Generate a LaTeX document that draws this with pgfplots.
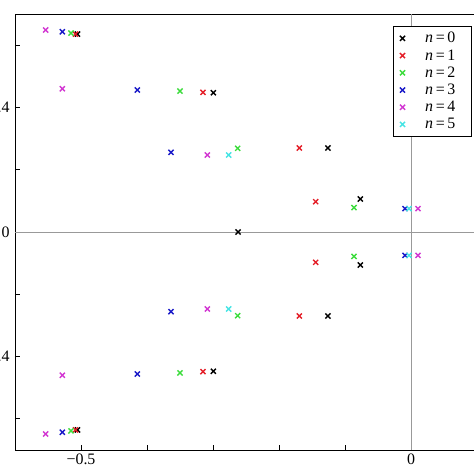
\documentclass[border=0pt]{standalone}
\usepackage{fontspec}
\setmainfont{Liberation Serif}
\usepackage{pgfplots}
\pgfplotsset{compat=1.18}

\definecolor{cred}{RGB}{228,30,40}
\definecolor{cgreen}{RGB}{60,220,60}
\definecolor{cblue}{RGB}{25,25,200}
\definecolor{cmag}{RGB}{210,55,210}
\definecolor{ccyan}{RGB}{70,228,228}

\pgfplotsset{
  pole/.style={only marks, mark=x, mark size=3.6bp, line width=1.4bp, draw=#1,
    mark options={draw=#1}},
}
\newcommand{\nlab}[1]{\textit{n}\,=\,#1\hspace*{13bp}}

\begin{document}
\begin{tikzpicture}
  \begin{axis}[
      scale only axis,
      width=462bp, height=436bp,
      xmin=-0.6, xmax=0.1,
      ymin=-0.7, ymax=0.7,
      axis line style={line width=0.9bp},
      tick pos=left,
      tick align=inside,
      xtick={-0.5,0}, xticklabels={−0.5,0},
      minor xtick={-0.4,-0.3,-0.2,-0.1},
      ytick={-0.4,0,0.4}, yticklabels={−0.4,0,0.4},
      minor ytick={-0.6,-0.2,0.2,0.6},
      major tick length=5bp, minor tick length=5bp,
      every tick/.style={black, line width=0.8bp},
      tick label style={font=\fontsize{16}{16}\selectfont},
      yticklabel style={xshift=-2bp},
      legend style={at={(0.989,0.972)}, anchor=north east,
        draw=black, line width=0.9bp, fill=white,
        font=\fontsize{16}{16}\selectfont,
        row sep=0pt, inner xsep=0pt, inner ysep=3bp,
        nodes={inner ysep=2.6bp, inner xsep=3bp}},
      legend cell align=left,
      legend image code/.code={
        \draw[#1] plot coordinates {(0bp,0bp)};
        \path (-8bp,0bp) (19bp,0bp);
      },
    ]

    % coordinate axes
    \draw[gray!80, line width=0.8bp] (axis cs:0,-0.7) -- (axis cs:0,0.7);
    \draw[gray!80, line width=0.8bp] (axis cs:-0.6,0) -- (axis cs:0.1,0);

    % n=0
    \addplot[pole=black] coordinates {
      (-0.5053, 0.6356) (-0.2995, 0.4472) (-0.1258, 0.2697) (-0.0768, 0.1059)
      (-0.2621, 0)
      (-0.0768,-0.1059) (-0.1258,-0.2697) (-0.2995,-0.4472) (-0.5053,-0.6356)
    };
    % n=1
    \addplot[pole=cred] coordinates {
      (-0.5083, 0.6356) (-0.3152, 0.4485) (-0.1692, 0.2697) (-0.1444, 0.0973)
      (-0.1444,-0.0973) (-0.1692,-0.2697) (-0.3152,-0.4485) (-0.5083,-0.6356)
    };
    % n=2
    \addplot[pole=cgreen] coordinates {
      (-0.5152, 0.6388) (-0.3500, 0.4526) (-0.2626, 0.2687) (-0.0864, 0.0785)
      (-0.0864,-0.0785) (-0.2626,-0.2687) (-0.3500,-0.4526) (-0.5152,-0.6388)
    };
    % n=3
    \addplot[pole=cblue] coordinates {
      (-0.5283, 0.6430) (-0.4147, 0.4559) (-0.3636, 0.2559) (-0.0091, 0.0750)
      (-0.0091,-0.0750) (-0.3636,-0.2559) (-0.4147,-0.4559) (-0.5283,-0.6430)
    };
    % n=4
    \addplot[pole=cmag] coordinates {
      (-0.5535, 0.6485) (-0.5283, 0.4600) (-0.3086, 0.2472) (0.0106, 0.0750)
      (0.0106,-0.0750) (-0.3086,-0.2472) (-0.5283,-0.4600) (-0.5535,-0.6485)
    };
    % n=5
    \addplot[pole=ccyan] coordinates {
      (-0.2762, 0.2472) (-0.0030, 0.0750)
      (-0.0030,-0.0750) (-0.2762,-0.2472)
    };

    \legend{\nlab{0}, \nlab{1}, \nlab{2}, \nlab{3}, \nlab{4}, \nlab{5}}
  \end{axis}

  % the reference is cropped: keep only its window
  \pgfresetboundingbox
  \path[use as bounding box]
    ([shift={(-15bp,-24bp)}]current axis.south west)
    rectangle ([shift={(-3bp,14bp)}]current axis.north east);
\end{tikzpicture}
\end{document}
